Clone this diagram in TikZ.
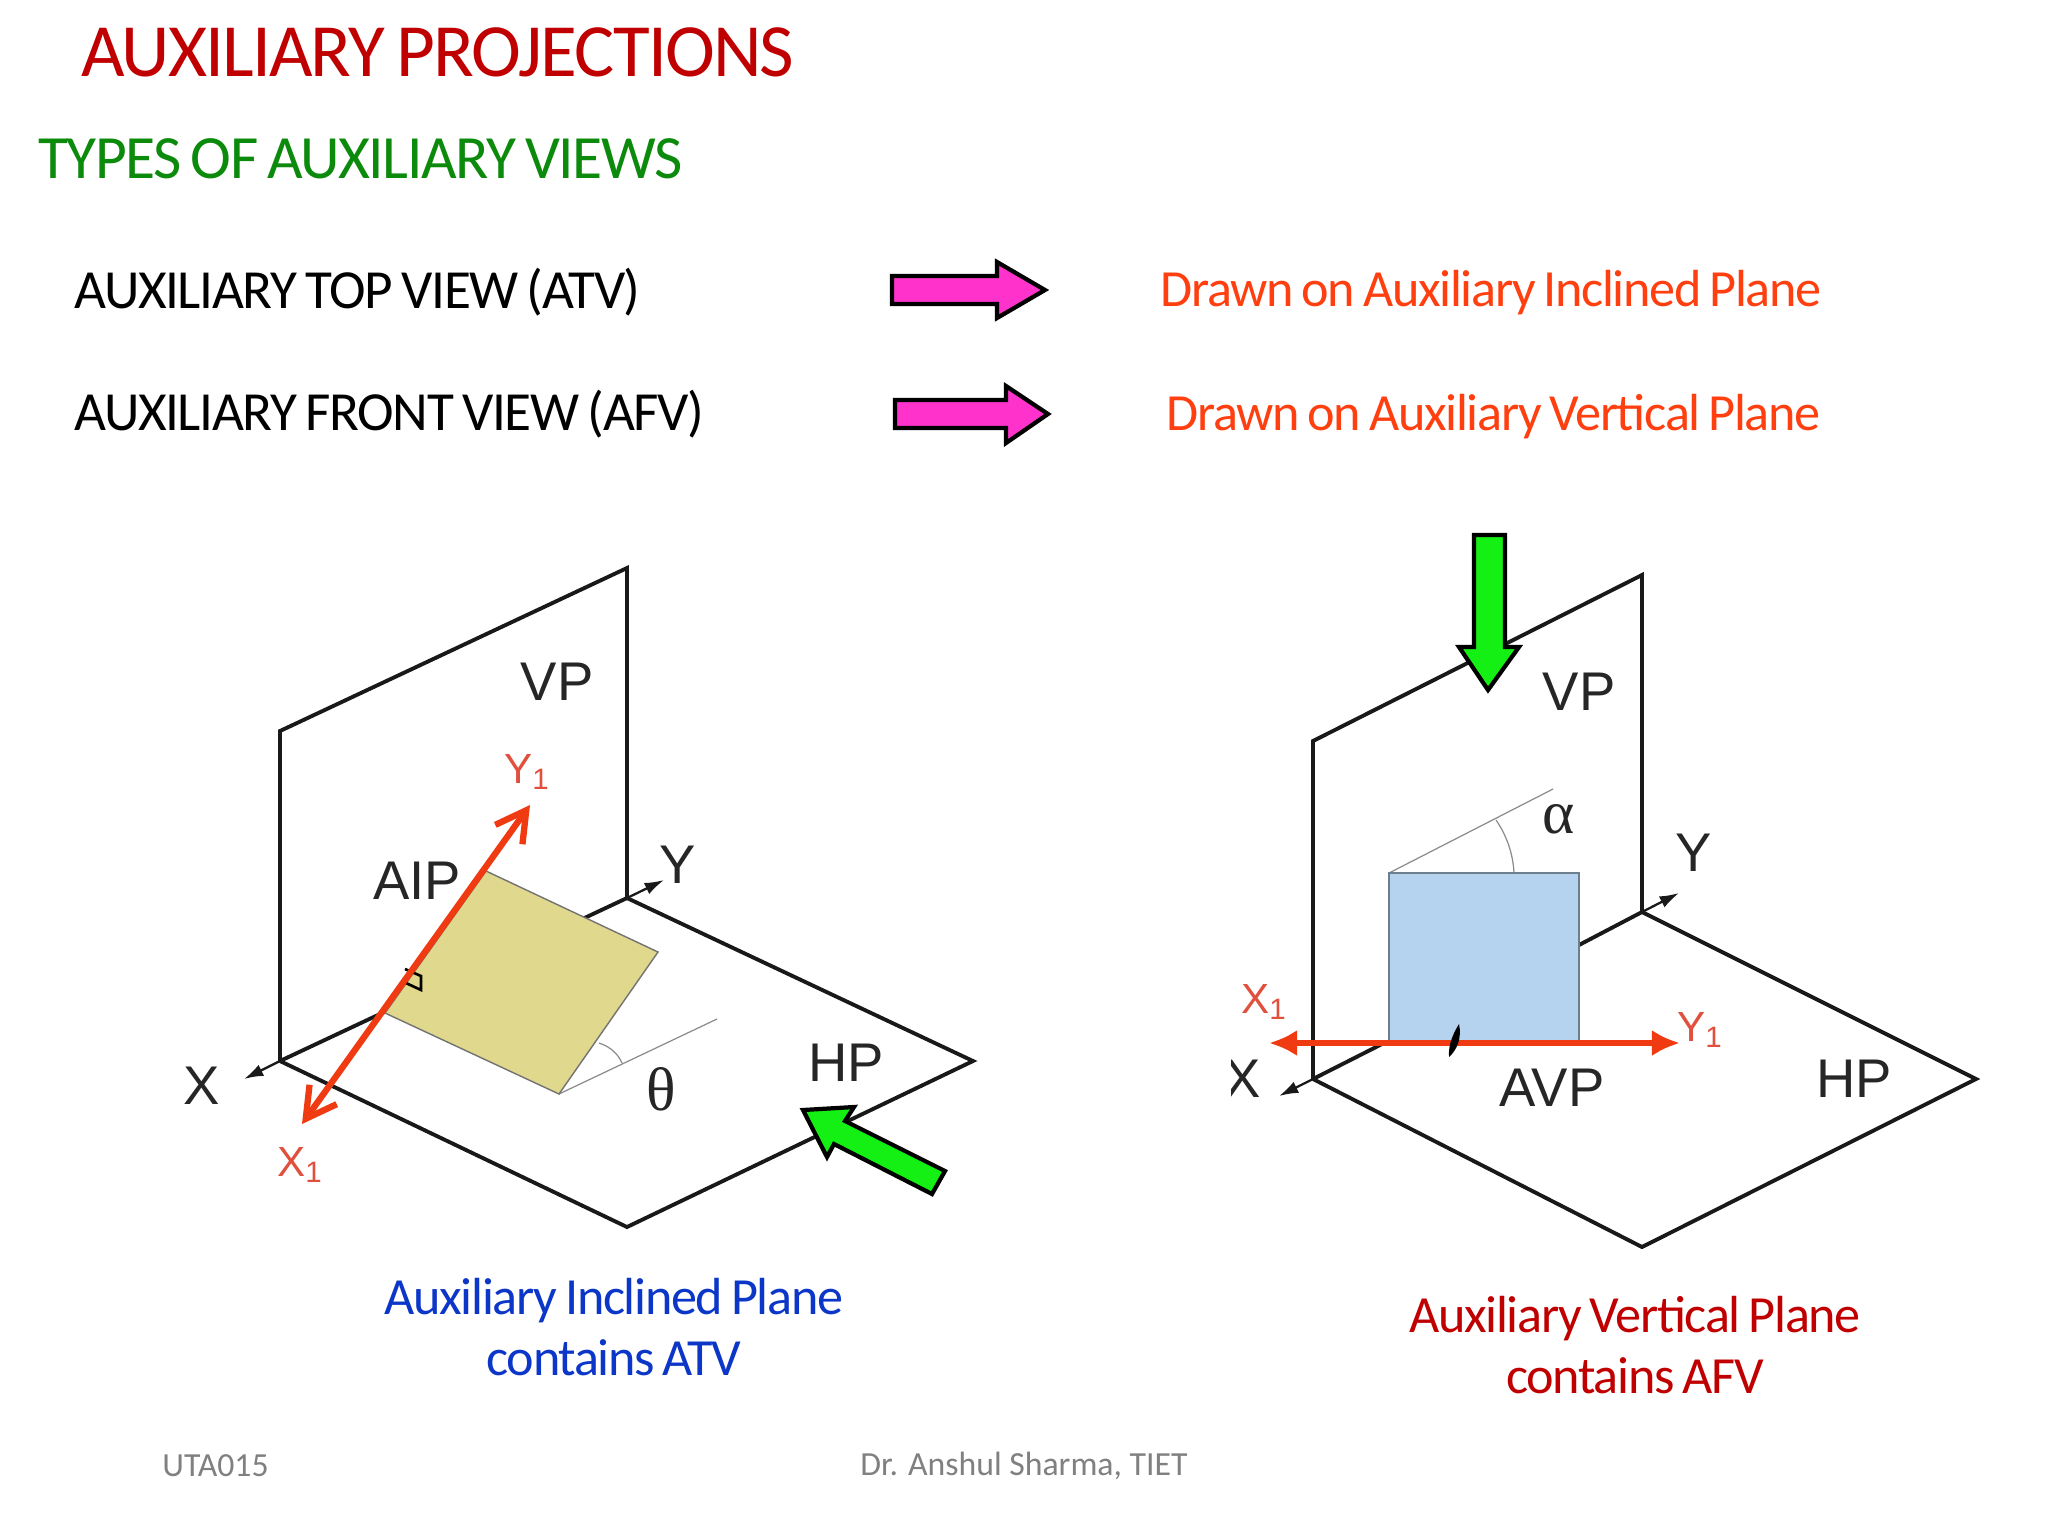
\documentclass[tikz,border=0pt]{standalone}
\usepackage{fontspec}
\usepackage{xcolor}
\usetikzlibrary{arrows.meta}
\setmainfont{Carlito}[LetterSpace=-2.5,WordSpace=0.75]
\newfontfamily\footerfont{Carlito}
\newfontfamily\labelfont{Liberation Sans}
\newfontfamily\greekfont{Liberation Serif}
\definecolor{titlered}{HTML}{C00000}
\definecolor{typegreen}{HTML}{0B8A0B}
\definecolor{noteorange}{HTML}{FF3F0F}
\definecolor{noteblue}{HTML}{0B36C8}
\definecolor{axisred}{HTML}{F03A12}
\definecolor{labelred}{HTML}{E0503C}
\definecolor{arrowpink}{HTML}{FF33CC}
\definecolor{arrowgreen}{HTML}{14F014}
\definecolor{aipfill}{HTML}{E0D88C}
\definecolor{avpfill}{HTML}{B5D2EE}
\tikzset{
  planeline/.style={line width=2.2pt, draw=black!90, line join=miter},
  thinline/.style={line width=0.7pt, draw=black!45},
  axisarrow/.style={line width=1.3pt, -{Latex[length=11pt,width=7pt]}, draw=black!90},
  blockarrow/.style={line width=2.4pt, draw=black, line join=miter, fill=#1},
  slidetext/.style={anchor=west, inner sep=0pt, font=\fontsize{31.4}{36}\selectfont},
  drawntext/.style={anchor=west, inner sep=0pt, text=noteorange, font=\fontsize{29.7}{36}\selectfont},
  notetext/.style={inner sep=0pt, align=center, font=\fontsize{29.7}{35}\selectfont},
  footer/.style={inner sep=0pt, text=black!50, font=\footerfont\fontsize{19.2}{22}\selectfont},
  planelabel/.style={inner sep=0pt, font=\labelfont\fontsize{31}{36}\selectfont, text=black!85},
  greeklabel/.style={inner sep=0pt, font=\greekfont\fontsize{35}{40}\selectfont, text=black!85},
  redlabel/.style={inner sep=0pt, text=labelred, font=\labelfont\fontsize{24}{28}\selectfont},
}
\begin{document}
\begin{tikzpicture}[x=0.02cm,y=-0.02cm,>=latex]
\useasboundingbox (0,0) rectangle (2048,1536);
\fill[white] (0,0) rectangle (2048,1536);

% headings
\node[slidetext, text=titlered, font=\fontsize{42.8}{48}\selectfont] (title) at (81,52) {AUXILIARY PROJECTIONS};
\node[slidetext, text=typegreen, font=\fontsize{35}{40}\selectfont] (types) at (38,159) {TYPES OF AUXILIARY VIEWS};
\node[slidetext] (atv) at (74,292) {AUXILIARY TOP VIEW (ATV)};
\node[slidetext] (afv) at (74,414) {AUXILIARY FRONT VIEW (AFV)};
\node[drawntext] (drawnatv) at (1160,293) {Drawn on Auxiliary Inclined Plane};
\node[drawntext] (drawnafv) at (1166,417) {Drawn on Auxiliary Vertical Plane};

\draw[blockarrow=arrowpink] (892,276) -- (997,276) -- (997,262) -- (1045,290) -- (997,318) -- (997,304) -- (892,304) -- cycle;
\draw[blockarrow=arrowpink] (895,400) -- (1006,400) -- (1006,386) -- (1048,414) -- (1006,443) -- (1006,428) -- (895,428) -- cycle;

% left: auxiliary inclined plane
\coordinate (lx) at (280,1061);
\coordinate (ly) at (627,898);
\coordinate (lxtip) at (244,1079);
\coordinate (lytip) at (664,880);
\draw[planeline] (lx) -- (280,731) -- (627,568) -- (ly);
\draw[planeline] (lx) -- (627,1227) -- (973,1061) -- (ly);
\draw[planeline] (lx) -- (ly);
\draw[axisarrow] (ly) -- (lytip);
\draw[axisarrow] (lx) -- (lxtip);
\draw[thinline] (559,1094) -- (717,1019);
\draw[thinline] (599,1043) .. controls (611,1047) and (618,1054) .. (622,1063);
\draw[line width=0.8pt, draw=black!55, fill=aipfill] (486,871) -- (658,952) -- (559,1094) -- (385,1013) -- cycle;
\draw[line width=1.5pt, black] (405,969) -- (421,976) -- (421,990) -- (406,983);
\coordinate (lxone) at (302,1124);
\coordinate (lyone) at (530,805);
\draw[line width=3.6pt, axisred, {Straight Barb[length=17pt,width=19pt,line width=3.6pt]}-{Straight Barb[length=17pt,width=19pt,line width=3.6pt]}] (lxone) -- (lyone);
\node[planelabel] (lvp) at (557,682) {VP};
\node[planelabel] (laip) at (417,881) {AIP};
\node[planelabel] (lhp) at (846,1063) {HP};
\node[planelabel] (lyl) at (678,865) {Y};
\node[planelabel] (lxl) at (202,1086) {X};
\node[greeklabel] (theta) at (661,1089) {θ};
\node[redlabel] (lyol) at (527,772) {Y\textsubscript{1}};
\node[redlabel] (lxol) at (300,1165) {X\textsubscript{1}};
\draw[blockarrow=arrowgreen] (803,1110) -- (854,1107) -- (845,1121) -- (945,1171) -- (932,1194) -- (834,1144) -- (827,1157) -- cycle;
\node[notetext, text=noteblue] (aipnote) at (614,1327) {Auxiliary Inclined Plane\\contains ATV};

% right: auxiliary vertical plane
\coordinate (rx) at (1313,1079);
\coordinate (ry) at (1642,912);
\coordinate (rxtip) at (1279,1096);
\coordinate (rytip) at (1679,893);
\coordinate (rleft) at (1384,1043);
\coordinate (rright) at (1579,945);
\draw[planeline] (rx) -- (1313,741) -- (1642,575) -- (ry);
\draw[planeline] (rx) -- (1642,1247) -- (1976,1079) -- (ry);
\draw[planeline] (rx) -- (rleft);
\draw[planeline] (rright) -- (ry);
\draw[axisarrow] (ry) -- (rytip);
\draw[axisarrow] (rx) -- (rxtip);
\draw[thinline] (1389,873) -- (1553,789);
\draw[thinline] (1496,820) .. controls (1507,836) and (1513,854) .. (1514,873);
\draw[line width=0.8pt, draw=black!40!avpfill, fill=avpfill] (1389,873) rectangle (1579,1043);
\coordinate (rxone) at (1269,1043);
\coordinate (ryone) at (1680,1043);
\draw[line width=3.6pt, axisred, {Latex[length=16pt,width=15pt]}-{Latex[length=16pt,width=15pt]}] (rxone) -- (ryone);
\fill[black] (1449,1057) .. controls (1448,1044) and (1454,1032) .. (1459,1024) .. controls (1462,1038) and (1457,1050) .. cycle;
\node[planelabel] (rvp) at (1579,692) {VP};
\node[planelabel] (ravp) at (1552,1088) {AVP};
\node[planelabel] (rhp) at (1854,1079) {HP};
\node[planelabel] (ryl) at (1694,853) {Y};
\begin{scope}
\clip (1231,1040) rectangle (1300,1120);
\node[planelabel] (rxl) at (1243,1079) {X};
\end{scope}
\node[greeklabel] (alpha) at (1559,819) {α};
\node[redlabel] (ryol) at (1700,1030) {Y\textsubscript{1}};
\node[redlabel] (rxol) at (1264,1002) {X\textsubscript{1}};
\draw[blockarrow=arrowgreen] (1474,535) -- (1505,535) -- (1505,647) -- (1519,647) -- (1488,690) -- (1459,647) -- (1474,647) -- cycle;
\node[notetext, text=titlered] (avpnote) at (1635,1345) {Auxiliary Vertical Plane\\contains AFV};

% footer
\node[footer, anchor=west] (course) at (162,1466) {UTA015};
\node[footer] (name) at (1024,1466) {Dr. Anshul Sharma, TIET};
\end{tikzpicture}
\end{document}
